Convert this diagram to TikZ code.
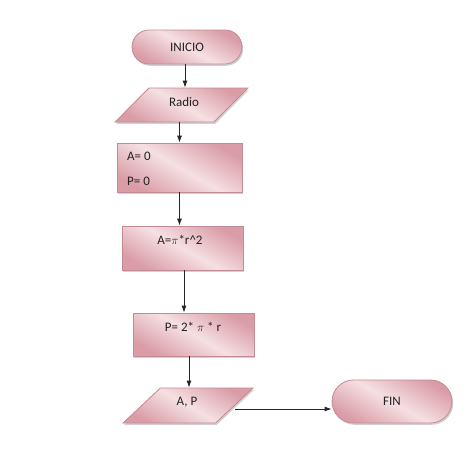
\documentclass[tikz,border=0pt]{standalone}
\usepackage{fontspec}
\setmainfont{Carlito}
\usetikzlibrary{shapes.geometric,shapes.misc,arrows.meta,shadows}
\definecolor{pinkedge}{HTML}{C28A93}
\definecolor{pinkdark}{HTML}{DA9DA7}
\definecolor{pinklight}{HTML}{F5E0E3}
\definecolor{txt}{HTML}{222222}
\tikzset{
  shapefill/.style={draw=pinkedge, line width=0.8pt,
    top color=pinkdark, bottom color=pinkdark, middle color=pinklight, shading angle=150,
    drop shadow={opacity=0.18, shadow xshift=1.2pt, shadow yshift=-1.8pt, fill=black}},
  term/.style={shapefill, rounded rectangle, inner sep=0pt},
  io/.style={shapefill, trapezium, trapezium stretches=true, inner sep=1pt},
  proc/.style={shapefill, rectangle, inner sep=0pt},
  lbl/.style={font=\fontsize{13}{15}\selectfont, text=txt, inner sep=0pt},
  conn/.style={draw=black!85, line width=0.8pt, -{Latex[length=7pt,width=5pt]}}
}
\begin{document}
\begin{tikzpicture}[x=1pt,y=-1pt]
\useasboundingbox (0,0) rectangle (474,451);
% shapes
\node[term, minimum width=110pt, minimum height=34pt] (inicio) at (187,47) {};
\node[lbl] (tinicio) at (187,47) {INICIO};
\node[io, trapezium left angle=66, trapezium right angle=114, minimum width=133pt, minimum height=34pt] (radio) at (181.5,105) {\phantom{X}};
\node[lbl] (tradio) at (184,102) {Radio};
\node[proc, minimum width=125pt, minimum height=49pt] (box1) at (179.5,167.5) {};
\node[lbl, anchor=west] (ta0) at (127,156) {A= 0};
\node[lbl, anchor=west] (tp0) at (127,181) {P= 0};
\node[proc, minimum width=121pt, minimum height=44pt] (box2) at (182.5,248) {};
\node[lbl] (tarea) at (180,240) {A=$\pi$*r\textasciicircum 2};
\node[proc, minimum width=121pt, minimum height=43pt] (box3) at (193.5,334.5) {};
\node[lbl] (tper) at (193,327) {P= 2* $\pi$ * r};
\node[io, trapezium left angle=60, trapezium right angle=120, minimum width=130pt, minimum height=35pt] (ap) at (188,405.5) {\phantom{X}};
\node[lbl] (tap) at (187,402) {A, P};
\node[term, minimum width=120pt, minimum height=43pt] (fin) at (392,401.5) {};
\node[lbl] (tfin) at (392,401) {FIN};
% connectors
\draw[conn] ([xshift=-2pt]inicio.south) -- ([xshift=-2pt]inicio.south |- radio.north);
\draw[conn] (box1.north |- radio.south) -- (box1.north);
\draw[conn] (box1.south) -- (box1.south |- box2.north);
\draw[conn] ([xshift=1.5pt]box2.south) -- ([xshift=1.5pt]box2.south |- box3.north);
\draw[conn] ([xshift=1pt]ap.north |- box3.south) -- ([xshift=1pt]ap.north);
\draw[conn] ([yshift=-3.5pt]ap.east) -- ([yshift=-3.5pt]ap.east -| fin.west);
\end{tikzpicture}
\end{document}
